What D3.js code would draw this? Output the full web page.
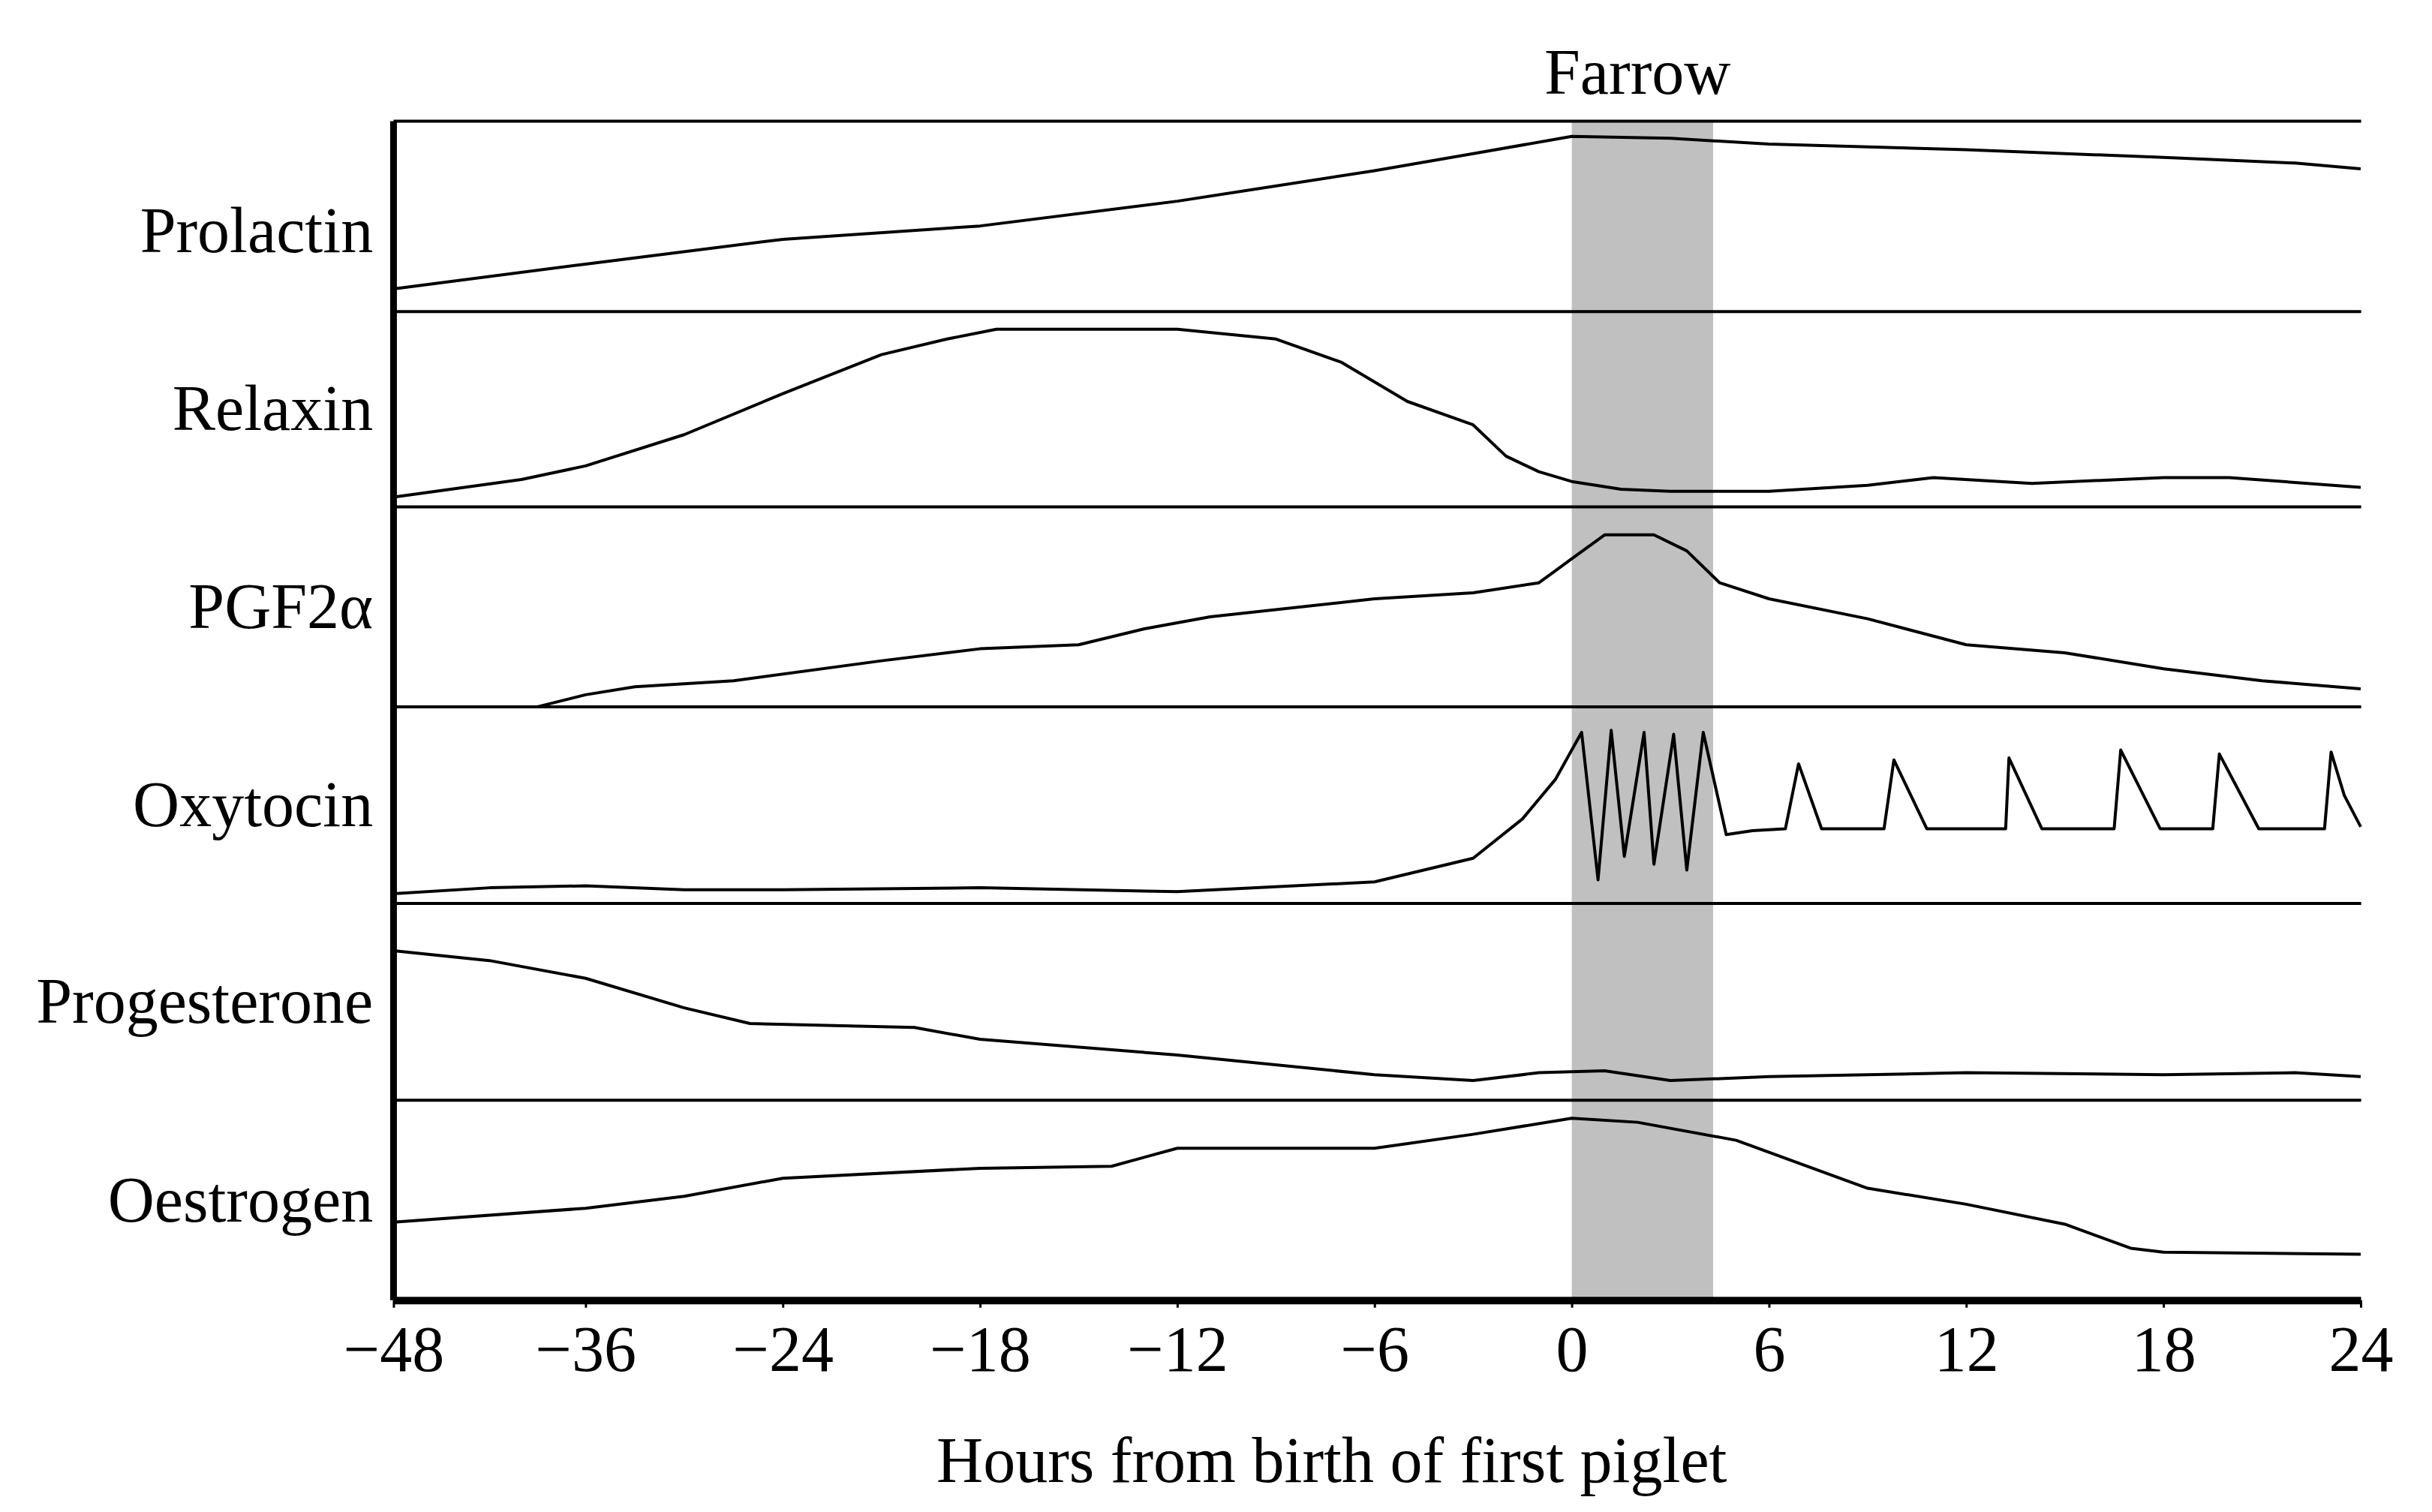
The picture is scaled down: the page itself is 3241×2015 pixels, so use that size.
<!DOCTYPE html>
<html><head><meta charset="utf-8">
<script src="https://cdn.jsdelivr.net/npm/d3@7"></script>
<style>body{margin:0;background:#fff}</style></head>
<body><svg id="c" width="3241" height="2015"></svg>
<script>
const tickValues = [-48,-36,-24,-18,-12,-6,0,6,12,18,24];
const hormones = ["Prolactin","Relaxin","PGF2\u03B1","Oxytocin","Progesterone","Oestrogen"];
const farrow = [0, 4.3];
const prolactin = [[-48,12],[-36,25],[-24,38],[-18,45],[-12,58],[-6,74],[-3,83],[0,92],[3,91],[6,88],[12,85],[18,81],[22,78],[24,75]];
const relaxin = [[-48,5],[-40,14],[-36,21],[-30,37],[-24,58],[-21,78],[-19,86],[-17.5,91],[-12,91],[-9,86],[-7,74],[-5,54],[-3,42],[-2,26],[-1,18],[0,13],[1.5,9],[3,8],[6,8],[9,11],[11,15],[14,12],[18,15],[20,15],[24,10]];
const pgf = [[-39,0],[-36,6],[-33,10],[-27,13],[-21,23],[-18,29],[-15,31],[-13,39],[-11,45],[-6,54],[-3,57],[-1,62],[0,74],[1,86],[2.5,86],[3.5,78],[4.5,62],[6,54],[9,44],[12,31],[15,27],[18,19],[21,13],[24,9]];
const oxytocin = [[-48,5],[-42,8],[-36,9],[-30,7],[-24,7],[-18,8],[-12,6],[-6,11],[-3,23],[-1.5,43],[-0.5,63],[0.3,87],[0.8,12],[1.2,88],[1.6,24],[2.2,87],[2.5,20],[3.1,86],[3.5,17],[4.0,87],[4.7,35],[5.5,37],[6.5,38],[6.9,71],[7.6,38],[9.5,38],[9.8,73],[10.8,38],[13.2,38],[13.3,74],[14.3,38],[16.5,38],[16.7,78],[17.9,38],[19.5,38],[19.7,76],[20.9,38],[22.9,38],[23.1,77],[23.5,55],[24,39]];
const progesterone = [[-48,76],[-42,71],[-36,62],[-30,47],[-26,39],[-20,37],[-18,31],[-12,23],[-6,13],[-3,10],[-1,14],[1,15],[3,10],[6,12],[12,14],[18,13],[22,14],[24,12]];
const oestrogen = [[-48,39],[-36,46],[-30,52],[-24,61],[-18,66],[-14,67],[-12,76],[-6,76],[-3,83],[0,91],[2,89],[5,80],[7,68],[9,56],[12,48],[15,38],[17,26],[18,24],[24,23]];
const series = [prolactin, relaxin, pgf, oxytocin, progesterone, oestrogen];

const k = 3241/1545;
const L = 250*k, R = 1500*k;
const bounds = [77,198,322,449,574,699,826].map(v=>v*k);
const svg = d3.select("#c");
const font = "'Liberation Serif','DejaVu Serif',serif";
const fs = 86;
const x = d3.scaleLinear().domain(tickValues)
  .range(tickValues.map((t,i)=> i===0 ? L : (372 + (i-1)*125.3)*k));

svg.append("rect").attr("x",x(farrow[0])).attr("y",bounds[0])
  .attr("width",x(farrow[1])-x(farrow[0])).attr("height",bounds[6]-bounds[0]).attr("fill","#c0c0c0");

for(let i=0;i<6;i++){
  const y = d3.scaleLinear().domain([0,100]).range([bounds[i+1],bounds[i]]);
  svg.append("path").datum(series[i])
    .attr("d", d3.line().x(d=>x(d[0])).y(d=>y(d[1])))
    .attr("fill","none").attr("stroke","#000").attr("stroke-width",4).attr("stroke-linejoin","round");
  svg.append("text").attr("x",237*k).attr("y",(bounds[i]+bounds[i+1])/2+28+(i===0?20:0))
    .attr("text-anchor","end").attr("font-family",font).attr("font-size",fs).text(hormones[i]);
}
bounds.slice(0,6).forEach(b=>{
  svg.append("line").attr("x1",L).attr("x2",R).attr("y1",b).attr("y2",b).attr("stroke","#000").attr("stroke-width",4);
});
svg.append("line").attr("x1",L).attr("x2",L).attr("y1",bounds[0]).attr("y2",bounds[6]).attr("stroke","#000").attr("stroke-width",9);

const ax = svg.append("g").attr("transform",`translate(0,${bounds[6]})`)
  .call(d3.axisBottom(x).tickValues(tickValues).tickSize(10).tickSizeOuter(0)
    .tickFormat(d=> d<0 ? "\u2212"+Math.abs(d) : d));
ax.select(".domain").attr("stroke-width",10);
ax.selectAll(".tick line").attr("stroke-width",3);
ax.selectAll("text").attr("font-family",font).attr("font-size",fs).attr("fill","#000").attr("dy","0.95em");

svg.append("text").attr("x",x(-7.3)).attr("y",1975).attr("text-anchor","middle")
  .attr("font-family",font).attr("font-size",fs).text("Hours from birth of first piglet");
svg.append("text").attr("x",x(2)).attr("y",125).attr("text-anchor","middle")
  .attr("font-family",font).attr("font-size",fs).text("Farrow");
</script></body></html>
